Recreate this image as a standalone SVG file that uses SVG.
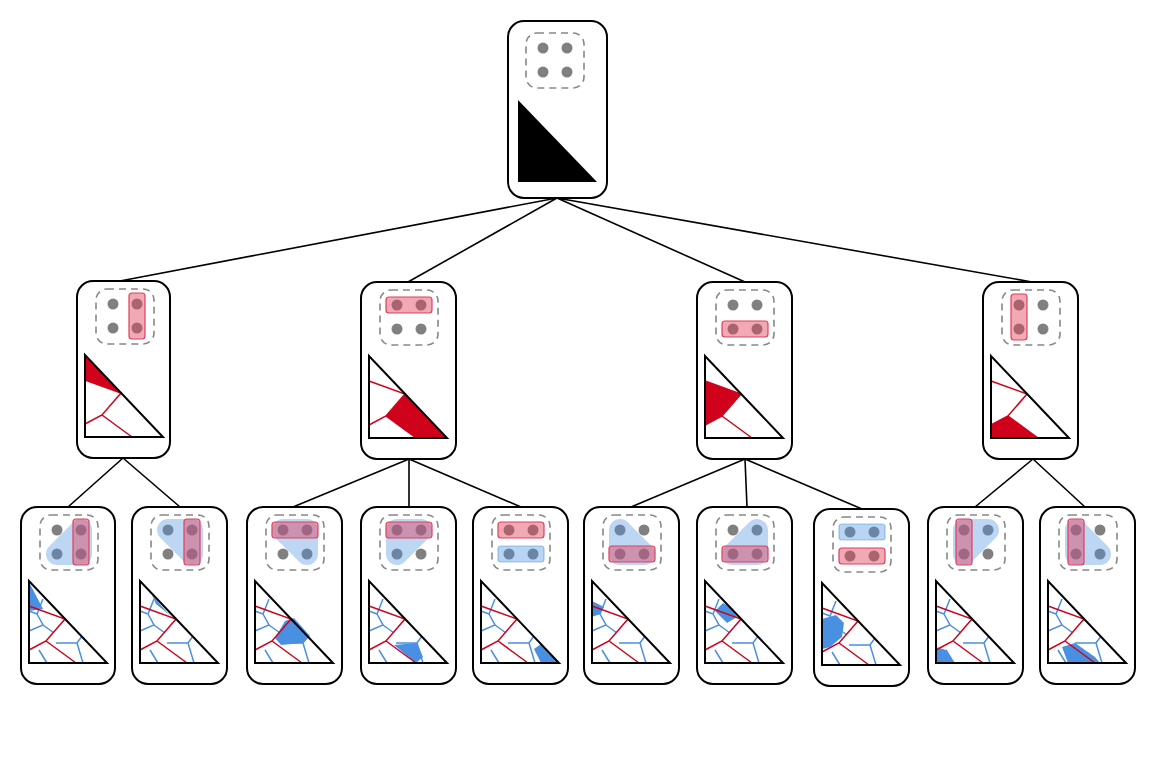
<svg xmlns="http://www.w3.org/2000/svg" xmlns:xlink="http://www.w3.org/1999/xlink" width="1154" height="780" viewBox="0 0 1154 780">
<style>
.box{fill:#fff;stroke:#000;stroke-width:2}
.dash{fill:none;stroke:#888;stroke-width:1.6;stroke-dasharray:7 5}
.dot{fill:#808080}
.tri{fill:none;stroke:#000;stroke-width:2}
.rl{fill:none;stroke:#d0021b;stroke-width:1.5}
.bl{fill:none;stroke:#4a90e2;stroke-width:1.5}
.rf{fill:#d0021b}
.bf{fill:#4a90e2}
.rh{fill:#e0405a;fill-opacity:.45;stroke:#e0405a;stroke-width:1.2}
.bb{fill:#4a90e2;fill-opacity:.38;stroke:#4a90e2;stroke-opacity:.5;stroke-width:1.2}
.bh{fill:#4a90e2;stroke:#4a90e2;stroke-width:22;stroke-linejoin:round;opacity:.36}
.con{stroke:#000;stroke-width:1.6;fill:none}
</style>
<defs>
<g id="dots">
<rect class="dash" x="19" y="8" width="58" height="55" rx="11"/>
<circle class="dot" cx="36" cy="23" r="5.5"/><circle class="dot" cx="60" cy="23" r="5.5"/>
<circle class="dot" cx="36" cy="47" r="5.5"/><circle class="dot" cx="60" cy="47" r="5.5"/>
</g>
<path id="redl" class="rl" d="M8,99 L44,112 L25,134 L8,143 M25,134 L55,156"/>
<path id="bluel" class="bl" d="M8,104 L16,107 L22,92 M16,107 L22,118 L8,124 M22,118 L33,126 M35,136 L56,136 L61,129 M56,136 L62,156 M18,143 L26,156"/>
<path id="tri" class="tri" d="M8,74 L8,156 L86,156 Z"/>
<rect id="rtop" class="rh" x="25" y="15" width="46" height="16" rx="3"/>
<rect id="rbot" class="rh" x="25" y="39" width="46" height="16" rx="3"/>
<rect id="rleft" class="rh" x="28" y="12" width="16" height="46" rx="3"/>
<rect id="rright" class="rh" x="52" y="12" width="16" height="46" rx="3"/>
</defs>
<g id="connectors">
<path class="con" d="M557,198 L120,281 M557,198 L408,282 M557,198 L745,282 M557,198 L1032,282"/>
<path class="con" d="M123,458 L68,507 M123,458 L180,507"/>
<path class="con" d="M409,459 L293,507 M409,459 L409,507 M409,459 L521,507"/>
<path class="con" d="M745,459 L631,507 M745,459 L747,507 M745,459 L862,509"/>
<path class="con" d="M1033,459 L975,507 M1033,459 L1085,507"/>
</g>
<g id="root" transform="translate(508,21)">
<rect class="box" width="99" height="177" rx="16"/>
<use href="#dots" transform="translate(-1,4)"/>
<path d="M10,79 L10,161 L89,161 Z" fill="#000"/>
</g>
<g id="n1" transform="translate(77,281)">
<rect class="box" width="93" height="177" rx="16"/><use href="#dots"/><use href="#rright"/>
<path class="rf" d="M8,74 L8,99 L44,112 Z"/><use href="#redl"/><use href="#tri"/>
</g>
<g id="n2" transform="translate(361,282)">
<rect class="box" width="95" height="177" rx="16"/><use href="#dots"/><use href="#rtop"/>
<path class="rf" d="M44,112 L86,156 L55,156 L25,134 Z"/><use href="#redl"/><use href="#tri"/>
</g>
<g id="n3" transform="translate(697,282)">
<rect class="box" width="95" height="177" rx="16"/><use href="#dots"/><use href="#rbot"/>
<path class="rf" d="M8,99 L44,112 L25,134 L8,143 Z"/><use href="#redl"/><use href="#tri"/>
</g>
<g id="n4" transform="translate(983,282)">
<rect class="box" width="95" height="177" rx="16"/><use href="#dots"/><use href="#rleft"/>
<path class="rf" d="M8,143 L25,134 L55,156 L8,156 Z"/><use href="#redl"/><use href="#tri"/>
</g>
<g id="l1" transform="translate(21,507)">
<rect class="box" width="94" height="177" rx="16"/><use href="#dots"/>
<polygon class="bh" points="36,47 60,23 60,47"/><use href="#rright"/>
<path class="bf" d="M8,75 L8,104 L22,102 Z"/><use href="#bluel"/><use href="#redl"/><use href="#tri"/>
</g>
<g id="l2" transform="translate(132,507)">
<rect class="box" width="95" height="177" rx="16"/><use href="#dots"/>
<polygon class="bh" points="36,23 60,23 60,47"/><use href="#rright"/>
<path class="bf" d="M20,88 L34,104 L40,110 L24,97 Z"/><use href="#bluel"/><use href="#redl"/><use href="#tri"/>
</g>
<g id="l3" transform="translate(247,507)">
<rect class="box" width="95" height="177" rx="16"/><use href="#dots"/>
<polygon class="bh" points="36,23 60,23 60,47"/><use href="#rtop"/>
<path class="bf" d="M28,131 L38,114 L47,111 L63,129 L56,136 L34,138 Z"/><use href="#bluel"/><use href="#redl"/><use href="#tri"/>
</g>
<g id="l4" transform="translate(361,507)">
<rect class="box" width="95" height="177" rx="16"/><use href="#dots"/>
<polygon class="bh" points="36,23 60,23 36,47"/><use href="#rtop"/>
<path class="bf" d="M33,138 L56,136 L62,150 L55,156 Z"/><use href="#bluel"/><use href="#redl"/><use href="#tri"/>
</g>
<g id="l5" transform="translate(473,507)">
<rect class="box" width="95" height="177" rx="16"/><use href="#dots"/><use href="#rtop"/>
<rect class="bb" x="25" y="39" width="46" height="16" rx="3"/>
<path class="bf" d="M68,137 L86,156 L68,156 L61,142 Z"/><use href="#bluel"/><use href="#redl"/><use href="#tri"/>
</g>
<g id="l6" transform="translate(584,507)">
<rect class="box" width="95" height="177" rx="16"/><use href="#dots"/>
<polygon class="bh" points="36,23 36,47 60,47"/><use href="#rbot"/>
<path class="bf" d="M8,94 L20,100 L16,107 L8,110 Z"/><use href="#bluel"/><use href="#redl"/><use href="#tri"/>
</g>
<g id="l7" transform="translate(697,507)">
<rect class="box" width="95" height="177" rx="16"/><use href="#dots"/>
<polygon class="bh" points="60,23 36,47 60,47"/><use href="#rbot"/>
<path class="bf" d="M18,104 L26,96 L33,100 L40,110 L30,116 L22,108 Z"/><use href="#bluel"/><use href="#redl"/><use href="#tri"/>
</g>
<g id="l8" transform="translate(814,509)">
<rect class="box" width="95" height="177" rx="16"/><use href="#dots"/>
<rect class="bb" x="25" y="15" width="46" height="16" rx="3"/><use href="#rbot"/>
<path class="bf" d="M8,110 L22,106 L30,114 L28,128 L16,138 L8,140 Z"/><use href="#bluel"/><use href="#redl"/><use href="#tri"/>
</g>
<g id="l9" transform="translate(928,507)">
<rect class="box" width="95" height="177" rx="16"/><use href="#dots"/>
<polygon class="bh" points="36,23 60,23 36,47"/><use href="#rleft"/>
<path class="bf" d="M8,140 L18,143 L26,156 L8,156 Z"/><use href="#bluel"/><use href="#redl"/><use href="#tri"/>
</g>
<g id="l10" transform="translate(1040,507)">
<rect class="box" width="95" height="177" rx="16"/><use href="#dots"/>
<polygon class="bh" points="36,23 36,47 60,47"/><use href="#rleft"/>
<path class="bf" d="M22,140 L35,136 L55,150 L60,156 L28,156 Z"/><use href="#bluel"/><use href="#redl"/><use href="#tri"/>
</g>
</svg>
